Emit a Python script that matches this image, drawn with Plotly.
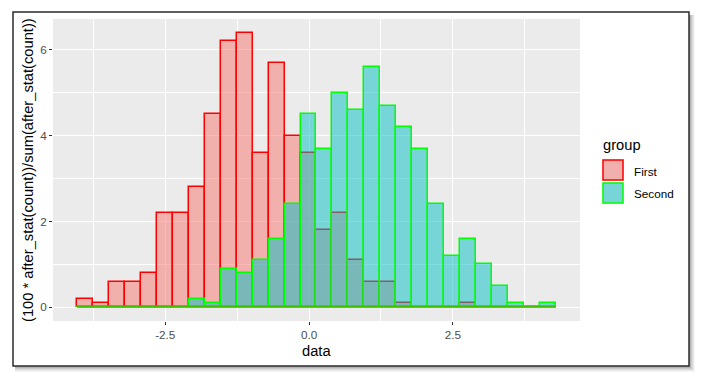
import plotly.graph_objects as go

# ---- data (percent of all counts, 30 bins) ----
bin_start = -4.036
bin_width = 0.2777
first_pct = [0.2, 0.1, 0.6, 0.6, 0.8, 2.2, 2.2, 2.8, 4.5, 6.2,
             6.4, 3.6, 5.7, 4.0, 3.6, 1.8, 2.2, 1.1, 0.6, 0.6,
             0.1, 0.0, 0.0, 0.0, 0.1, 0.0, 0.0, 0.0, 0.0, 0.0]
second_pct = [0.0, 0.0, 0.0, 0.0, 0.0, 0.0, 0.0, 0.2, 0.1, 0.9,
              0.8, 1.1, 1.6, 2.4, 4.5, 3.7, 5.0, 4.6, 5.6, 4.7,
              4.2, 3.7, 2.4, 1.2, 1.6, 1.0, 0.5, 0.1, 0.0, 0.1]
group_names = ["First", "Second"]
x_tickvals = [-2.5, 0.0, 2.5]
x_ticktext = ["-2.5", "0.0", "2.5"]
y_tickvals = [0, 2, 4, 6]
y_ticktext = ["0", "2", "4", "6"]

n_bins = len(first_pct)
centers = [bin_start + bin_width * (i + 0.5) for i in range(n_bins)]
x_lo = bin_start
x_hi = bin_start + bin_width * n_bins

fills = ["rgba(248,118,109,0.5)", "rgba(0,191,196,0.5)"]
lines = ["#FF0000", "#00FF00"]

W, H = 703, 383
ML, MR, MT, MB = 53, 123, 19, 62
PW, PH = W - ML - MR, H - MT - MB


def px(x):
    return (x - ML) / PW


def py(y):
    return (H - MB - y) / PH


fig = go.Figure()
for vals, name, fc, lc in zip([first_pct, second_pct], group_names, fills, lines):
    fig.add_trace(go.Bar(
        x=centers, y=vals, width=bin_width, name=name,
        marker=dict(color=fc, line=dict(color=lc, width=1.5)),
        showlegend=False,
    ))
for lc in lines:
    fig.add_trace(go.Scatter(
        x=[x_lo, x_hi], y=[0, 0], mode="lines",
        line=dict(color=lc, width=1.5), showlegend=False, hoverinfo="skip",
    ))

FL, FT, FR, FB = 13, 12, 689, 366
shapes = []


def lpath(k):
    pts = [(FR, FT + 3), (FR + k, FT + 3), (FR + k, FB + k), (FL + 2, FB + k),
           (FL + 2, FB), (FR, FB)]
    return "M " + " L ".join(f"{px(a):.5f},{py(b):.5f}" for a, b in pts) + " Z"


# drop shadow (outside the frame only)
for k, op in [(6, 0.035), (5, 0.05), (4, 0.06), (3, 0.08), (2, 0.10)]:
    shapes.append(dict(type="path", xref="paper", yref="paper", path=lpath(k),
                       fillcolor=f"rgba(0,0,0,{op})", line=dict(width=0)))
# frame
shapes.append(dict(type="rect", xref="paper", yref="paper",
                   x0=px(FL), x1=px(FR), y0=py(FB), y1=py(FT),
                   fillcolor="rgba(0,0,0,0)", line=dict(color="#2b2b2b", width=1.5)))
# legend keys
key_y = [(159, 181), (182, 204)]
for (y0, y1), fc, lc in zip(key_y, fills, lines):
    shapes.append(dict(type="rect", xref="paper", yref="paper",
                       x0=px(602), x1=px(624), y0=py(y1), y1=py(y0),
                       fillcolor="#EBEBEB", line=dict(width=0)))
    shapes.append(dict(type="rect", xref="paper", yref="paper",
                       x0=px(603), x1=px(623), y0=py(y1 - 1), y1=py(y0 + 1),
                       fillcolor=fc, line=dict(color=lc, width=1.5)))

font = "Liberation Sans, Arial, sans-serif"
annotations = [
    dict(text="(100 * after_stat(count))/sum(after_stat(count))", textangle=-90,
         xref="paper", yref="paper", x=px(28), y=0.5, xanchor="center", yanchor="middle",
         showarrow=False, font=dict(size=14.7, color="black", family=font)),
    dict(text="data", xref="paper", yref="paper", x=0.5, y=py(351),
         xanchor="center", yanchor="middle", showarrow=False,
         font=dict(size=14.7, color="black", family=font)),
    dict(text="group", xref="paper", yref="paper", x=px(601), y=py(145),
         xanchor="left", yanchor="middle", showarrow=False,
         font=dict(size=14.7, color="black", family=font)),
]
for name, yc in zip(group_names, [171, 193]):
    annotations.append(dict(text=name, xref="paper", yref="paper", x=px(632), y=py(yc),
                            xanchor="left", yanchor="middle", showarrow=False,
                            font=dict(size=11.7, color="black", family=font)))

fig.update_layout(
    width=W, height=H,
    margin=dict(l=ML, r=MR, t=MT, b=MB, pad=0),
    paper_bgcolor="white", plot_bgcolor="#EBEBEB",
    barmode="overlay", bargap=0,
    font=dict(family=font, color="#4D4D4D", size=11.7),
    shapes=shapes, annotations=annotations,
    xaxis=dict(range=[-4.453, 4.713], tickvals=x_tickvals, ticktext=x_ticktext,
               ticks="outside", ticklen=3, tickwidth=1, tickcolor="#333333",
               showgrid=True, gridcolor="white", gridwidth=1.3, zeroline=False,
               showline=False, tickfont=dict(size=11.7, color="#4D4D4D"),
               minor=dict(tickvals=[-3.75, -1.25, 1.25, 3.75], showgrid=True,
                          gridcolor="white", gridwidth=0.6, ticks="")),
    yaxis=dict(range=[-0.32, 6.72], tickvals=y_tickvals, ticktext=y_ticktext,
               ticks="outside", ticklen=3, tickwidth=1, tickcolor="#333333",
               showgrid=True, gridcolor="white", gridwidth=1.3, zeroline=False,
               showline=False, tickfont=dict(size=11.7, color="#4D4D4D"),
               minor=dict(tickvals=[1, 3, 5], showgrid=True,
                          gridcolor="white", gridwidth=0.6, ticks="")),
)

fig.write_html("out.html")
